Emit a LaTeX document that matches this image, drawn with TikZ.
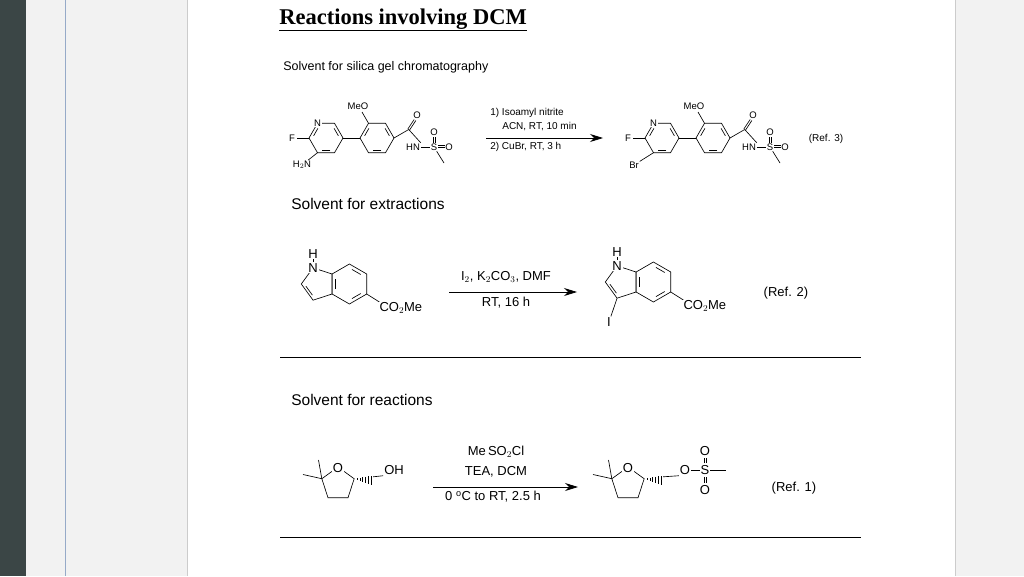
\documentclass[tikz,border=0pt]{standalone}
\usepackage{fontspec}
\setmainfont{Liberation Sans}
\newfontfamily\serifbf{Liberation Serif}
\usetikzlibrary{arrows.meta,calc}
\newcommand\poly[5]{\draw ({#1+#3*cos(#5)},{#2+#3*sin(#5)}) \foreach \k in {1,...,#4}{ -- ({#1+#3*cos(#5+\k*360/#4)},{#2+#3*sin(#5+\k*360/#4)})} -- cycle;}
\newcommand\inl[5]{\draw ({#1+0.74*#3*cos(#4+10)},{#2+0.74*#3*sin(#4+10)}) -- ({#1+0.74*#3*cos(#5-10)},{#2+0.74*#3*sin(#5-10)});}
% double bond between two points (already at desired ends)
\newcommand\dbl[2]{\draw ($(#1)!1pt!90:(#2)$) -- ($(#2)!1pt!-90:(#1)$); \draw ($(#1)!1pt!-90:(#2)$) -- ($(#2)!1pt!90:(#1)$);}
\newcommand\molone[2]{%
 \poly{326}{138}{17}{6}{0}\inl{326}{138}{17}{180}{240}\inl{326}{138}{17}{300}{360}\inl{326}{138}{17}{60}{120}
 \poly{377}{138}{17}{6}{0}\inl{377}{138}{17}{180}{240}\inl{377}{138}{17}{300}{360}\inl{377}{138}{17}{60}{120}
 \draw (343,138) -- (360,138);
 \draw (309,138) -- (297,138);
 \draw (317.5,152.7) -- (#2);
 \draw (368.5,123.3) -- (362,112);
 \draw (394,138) -- (408.7,129.5);
 \node[lab] (N#1) at (317.5,123.3) {N};
 \node[lab] (F#1) at (292,138) {F};
 \node[lab] (MeO#1) at (358,106) {MeO};
 \coordinate (C#1) at (408.7,129.5);
 \node[lab] (O#1) at (417,115) {O};
 \node[lab] (HN#1) at (413,147) {HN};
 \node[lab] (S#1) at (434,147) {S};
 \node[lab] (Or#1) at (449,147) {O};
 \node[lab] (Ot#1) at (434,132) {O};
 \dbl{C#1}{415,120}
 \draw (C#1) -- (HN#1.north east);
 \draw (HN#1) -- (S#1);
 \dbl{438,146}{445,146}
 \dbl{434,142.5}{434,136.5}
 \draw (S#1) -- (444,163);
}
\newcommand\indole[3]{% name, cx, cy
 \poly{#2}{#3}{20}{6}{30}\inl{#2}{#3}{20}{270}{330}\inl{#2}{#3}{20}{30}{90}\inl{#2}{#3}{20}{150}{210}
 \poly{#2-31.1}{#3}{17}{5}{36}\inl{#2-31.1}{#3}{17}{108}{180}
 \node[labb] (N#1) at ({#2-31.1+17*cos(252)},{#3+17*sin(252)}) {N};
 \node[labb] (H#1) at ({#2-31.1+17*cos(252)},{#3+17*sin(252)-14}) {H};
 \draw (N#1) -- (H#1);
 \draw ({#2+17.3},{#3+10}) -- ({#2+30},{#3+18});
 \node[labb,anchor=west] (E#1) at ({#2+29},{#3+24}) {CO$_2$Me};
}
\newcommand\thf[1]{%
 \poly{338}{484}{17}{5}{-18}
 \draw (321.8,478.7) -- (303,474.5);
 \draw (321.8,478.7) -- (318.5,460);
 \node[labb] (Or#1) at (338,468) {O};
 \foreach \t in {0.15,0.3,...,0.95}{\draw ({354.2+\t*19},{478.7+\t*2-\t*5}) -- ({354.2+\t*19},{478.7+\t*2+\t*5});}
}
\tikzset{lab/.style={fill=white,inner sep=0.6pt,font=\fontsize{9.5}{10}\selectfont},
 labb/.style={fill=white,inner sep=0.8pt,font=\fontsize{13}{14}\selectfont},
 txt/.style={inner sep=0pt,font=\fontsize{13}{14}\selectfont},
 rx/.style={-{Stealth[length=13pt,width=8pt]},line width=0.8pt}}
\begin{document}
\begin{tikzpicture}[x=1pt,y=-1pt,line width=0.65pt]
\useasboundingbox (0,0) rectangle (1024,576);
\fill[black!5] (0,0) rectangle (1024,576);
\fill[white] (187,0) rectangle (955,576);
\draw[black!20,line width=1pt] (187,0) -- (187,576) (955,0) -- (955,576);
\fill[fill={rgb,255:red,59;green,70;blue,70}] (0,0) rectangle (26,576);
\draw[color={rgb,255:red,150;green,170;blue,200},line width=1pt] (65,0) -- (65,576);
\node[anchor=west,inner sep=0pt,font=\serifbf\bfseries\fontsize{22.5}{24}\selectfont] (title) at (279,20) {\underline{Reactions involving DCM}};
\node[anchor=west,inner sep=0pt,font=\fontsize{12.5}{13}\selectfont] (s1) at (283,67) {Solvent for silica gel chromatography};
\node[anchor=west,inner sep=0pt,font=\fontsize{15.5}{16}\selectfont] (s2) at (291,204) {Solvent for extractions};
\node[anchor=west,inner sep=0pt,font=\fontsize{15.5}{16}\selectfont] (s3) at (291,400) {Solvent for reactions};
% reaction 1
\node[lab] (HtN) at (302,165) {H$_2$N};
\molone{a}{HtN}
\begin{scope}[shift={(336,0)}]
\node[lab] (Br) at (298,165) {Br};
\molone{b}{Br}
\end{scope}
\coordinate (a1s) at (486,138); \coordinate (a1e) at (603,138);
\draw[rx] (a1s) -- (a1e);
\node[anchor=west,inner sep=0pt,font=\fontsize{10}{11}\selectfont] (t11) at (490,113) {1) Isoamyl nitrite};
\node[anchor=west,inner sep=0pt,font=\fontsize{10}{11}\selectfont] (t12) at (502,127) {ACN, RT, 10 min};
\node[anchor=west,inner sep=0pt,font=\fontsize{10}{11}\selectfont] (t13) at (490,147) {2) CuBr, RT, 3 h};
\node[inner sep=0pt,font=\fontsize{10}{11}\selectfont] (r3) at (826,139) {(Ref. 3)};
% reaction 2
\indole{a}{349.4}{284}
\indole{b}{653.4}{282}
\node[labb] (I) at (609,322) {I};
\draw (617,298.4) -- (I);
\draw[rx] (449,292) -- (577,292);
\node[txt] (t21) at (506,277) {I$_2$, K$_2$CO$_3$, DMF};
\node[txt] (t22) at (506,303) {RT, 16 h};
\node[txt] (r2) at (786,293) {(Ref. 2)};
% reaction 3
\thf{a}
\node[labb] (OH) at (394,470) {OH};
\draw (373.2,476.8) -- (OH.south west);
\begin{scope}[shift={(290,0)}]
\thf{b}
\end{scope}
\node[labb] (Ob) at (685,470) {O};
\draw (663.2,476.8) -- (Ob.south west);
\node[labb] (Sb) at (705,470) {S};
\node[labb] (Otb) at (705,451) {O};
\node[labb] (Obb) at (705,490) {O};
\draw (Ob) -- (Sb);
\dbl{705,463}{705,457.5}
\dbl{705,477}{705,483}
\draw (Sb) -- (726,470);
\draw[rx] (433,487) -- (578,487);
\node[txt] (t31) at (496,452) {Me\,SO$_2$Cl};
\node[txt] (t32) at (496,472) {TEA, DCM};
\node[txt] (t33) at (493,497) {0 $^{\mathrm{o}}$C to RT, 2.5 h};
\node[txt] (r1) at (794,488) {(Ref. 1)};
% separators
\draw[line width=0.7pt] (280,357) -- (861,357);
\draw[line width=0.7pt] (280,537) -- (861,537);
\end{tikzpicture}
\end{document}
